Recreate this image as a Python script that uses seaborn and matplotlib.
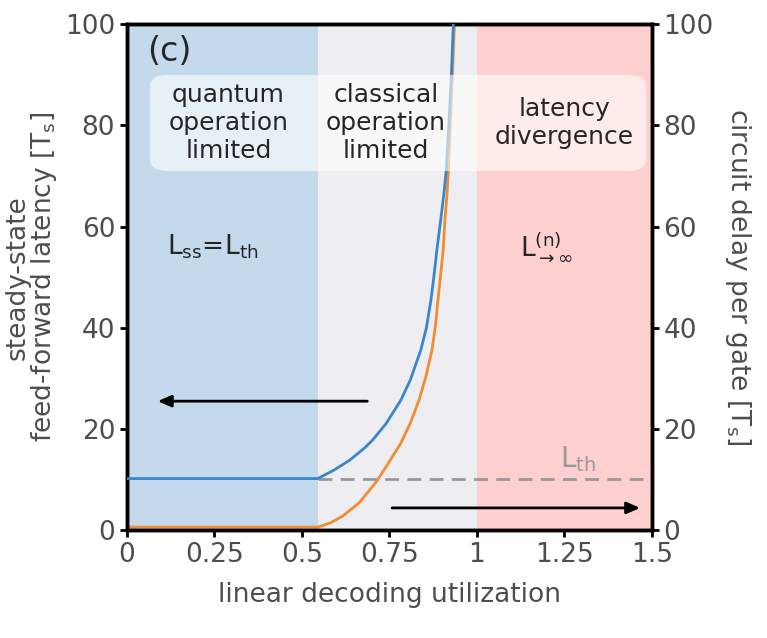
import numpy as np
import pandas as pd
import matplotlib
matplotlib.use("Agg")
import matplotlib.pyplot as plt
import seaborn as sns
from matplotlib.patches import FancyBboxPatch

# DATA

util_blue = [0, 0.545, 0.59, 0.636, 0.68, 0.702, 0.74, 0.783, 0.81, 0.840,
             0.856, 0.869, 0.878, 0.886, 0.897, 0.906, 0.913, 0.921, 0.928, 0.933]
latency_ss = [10.2, 10.2, 11.8, 13.8, 16.3, 17.8, 21.0, 25.7, 29.7, 35.6,
              40.0, 45.5, 50.5, 55.4, 61.4, 66.5, 71.3, 81.2, 91.0, 100.0]

util_orange = [0, 0.545, 0.58, 0.617, 0.665, 0.712, 0.745, 0.783, 0.81, 0.835,
               0.855, 0.872, 0.882, 0.889, 0.896, 0.904, 0.909, 0.915, 0.919,
               0.925, 0.931, 0.936]
delay_gate = [0.6, 0.6, 1.4, 2.8, 5.5, 9.5, 13.0, 17.2, 21.2, 25.7,
              30.5, 35.6, 40.5, 45.5, 50.0, 55.4, 61.4, 66.5, 71.3,
              81.0, 91.0, 100.0]

L_th = 10.2
region_edges = [0, 0.545, 1.0, 1.5]
region_colors = ["#c4d9ec", "#eeeef2", "#fdd0cf"]
region_names = ["quantum\noperation\nlimited", "classical\noperation\nlimited",
                "latency\ndivergence"]
x_ticks = [0, 0.25, 0.5, 0.75, 1, 1.25, 1.5]
x_ticklabels = ["0", "0.25", "0.5", "0.75", "1", "1.25", "1.5"]
y_ticks = [0, 20, 40, 60, 80, 100]

df_blue = pd.DataFrame({"util": util_blue, "latency": latency_ss})
df_orange = pd.DataFrame({"util": util_orange, "delay": delay_gate})

# STYLE

sns.set_style("ticks")
plt.rcParams["font.family"] = ["DejaVu Sans"]
plt.rcParams["mathtext.fontset"] = "dejavusans"

grey = "#4d4d4d"

fig = plt.figure(figsize=(7.67, 6.38), dpi=100)
ax = fig.add_axes([0.1656, 0.169, 0.684, 0.793])
ax2 = ax.twinx()
ax2.set_zorder(ax.get_zorder() - 1)
ax.patch.set_visible(False)

# background regions (on the lower axes so both curves sit above them)
for i in range(3):
    ax2.axvspan(region_edges[i], region_edges[i + 1], color=region_colors[i], lw=0, zorder=0)

# curves
sns.lineplot(data=df_orange, x="util", y="delay", ax=ax2, color="#f28c2e",
             lw=2, estimator=None, sort=False, zorder=2)
sns.lineplot(data=df_blue, x="util", y="latency", ax=ax, color="#3a86cc",
             lw=2, estimator=None, sort=False, zorder=3)

# threshold line
ax.plot([region_edges[1], region_edges[3]], [L_th, L_th], color="#999999",
        lw=2, ls=(0, (5, 3)), zorder=2)

# text box across regions
box = FancyBboxPatch((0.065, 71), 1.42, 19, boxstyle="round,pad=0,rounding_size=0.05",
                     mutation_aspect=100 / 1.5 * 0.75, fc="white", ec="none", alpha=0.6,
                     zorder=4)
ax.add_patch(box)

for xc, name in zip([0.29, 0.74, 1.25], region_names):
    ax.text(xc, 80.5, name, ha="center", va="center", fontsize=18,
            linespacing=1.2, zorder=5)

ax.text(0.12, 94.7, "(c)", ha="center", va="center", fontsize=24, zorder=5)
ax.text(0.245, 56, r"L$_{\rm ss}$=L$_{\rm th}$", ha="center", va="center",
        fontsize=19, zorder=5)
ax.text(1.2, 56, r"L$^{\rm (n)}_{\rightarrow\infty}$", ha="center", va="center",
        fontsize=19, zorder=5)
ax.text(1.29, 14, r"L$_{\rm th}$", ha="center", va="center", fontsize=20,
        color="#999999", zorder=5)

# arrows
ax.annotate("", xy=(0.08, 25.5), xytext=(0.695, 25.5),
            arrowprops=dict(arrowstyle="-|>,head_length=0.8,head_width=0.35",
                            color="black", lw=2), zorder=5)
ax.annotate("", xy=(1.475, 4.4), xytext=(0.75, 4.4),
            arrowprops=dict(arrowstyle="-|>,head_length=0.8,head_width=0.35",
                            color="black", lw=2), zorder=5)

# axes
ax.set_xlim(0, 1.5)
ax.set_ylim(0, 100)
ax2.set_ylim(0, 100)
ax.set_xticks(x_ticks)
ax.set_xticklabels(x_ticklabels)
ax.set_yticks(y_ticks)
ax2.set_yticks(y_ticks)

ax.set_xlabel("linear decoding utilization", fontsize=19, color=grey, labelpad=10)
ax.set_ylabel("steady-state\nfeed-forward latency [T$_{\\rm s}$]", fontsize=19,
              color=grey, linespacing=0.95, labelpad=4)
ax2.set_ylabel("circuit delay per gate [T$_{\\rm s}$]", fontsize=19, color=grey,
               rotation=270, labelpad=28)

for a in (ax, ax2):
    a.tick_params(labelsize=19, labelcolor=grey, width=2, length=5, color="black")
    for s in a.spines.values():
        s.set_linewidth(2.5)
        s.set_color("black")

fig.savefig("out.png", dpi=100)
